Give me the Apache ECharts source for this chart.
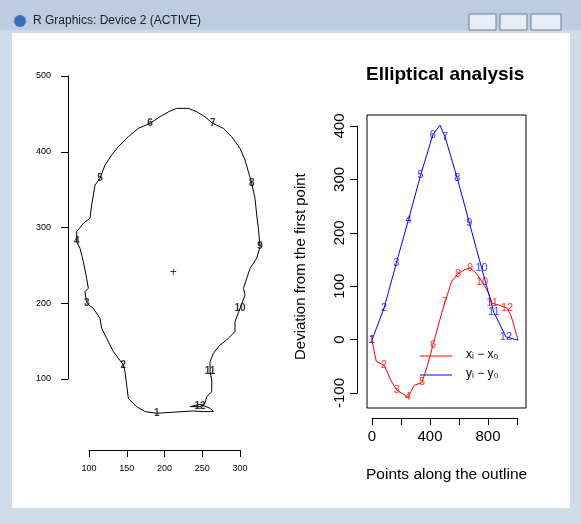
<!DOCTYPE html>
<html><head><meta charset="utf-8">
<script src="https://cdn.jsdelivr.net/npm/echarts@6/dist/echarts.min.js"></script>
<style>html,body{margin:0;padding:0}#c{width:581px;height:524px}</style>
</head><body><div id="c"></div>
<script>
// outline (x, y)
var outline = [
  [189.5,54.7],[174.1,56.9],[163.0,63.5],[152.0,74.5],[149.8,92.1],[147.6,109.7],[145.4,118.6],
  [132.2,136.2],[123.3,153.8],[116.7,167.0],[114.5,180.2],[105.7,193.4],[96.9,200.0],
  [94.7,215.4],[99.1,219.8],[96.9,233.0],[92.5,255.0],[88.1,272.7],[83.7,281.5],
  [83.7,294.7],[92.5,305.7],[101.3,312.3],[103.5,329.9],[105.7,343.1],[107.9,356.3],[114.5,365.1],
  [121.1,382.7],[130.0,395.9],[138.8,407.0],[152.0,420.2],[165.2,431.2],[180.7,437.8],
  [193.9,446.6],[207.1,454.1],[215.9,457.6],[231.4,457.6],[242.4,453.2],[253.4,446.6],[263.6,437.8],
  [277.7,431.2],[288.7,420.2],[299.7,404.8],[306.4,389.3],[310.8,373.9],[315.2,358.5],
  [319.6,338.7],[321.8,316.7],[324.0,299.1],[326.2,274.9],
  [321.8,259.5],[313.0,246.2],[304.2,219.8],[306.4,211.0],[299.7,193.4],
  [293.1,175.8],[293.1,162.6],[282.1,151.6],[273.3,145.0],[264.5,134.0],[260.1,123.0],[260.1,109.7],
  [262.3,98.8],[262.3,83.3],[255.6,76.7],[253.4,68.0],[246.8,63.5],
  [233.6,63.5],[246.8,66.6],[260.1,61.3],[264.5,56.9],[251.2,56.9],[238.0,57.8],[211.5,56.1],[189.5,54.7]
];
var outlineLabelIdx = [0,6,12,18,25,31,38,44,48,53,60,65];
var centroid = [211.5,241];

var devX = [
  [0,0],[30,-40],[84,-47],[130,-75],[172,-94],[210,-100],[248,-107],[290,-85],[345,-79],[380,-50],
  [421,-9],[460,30],[503,71],[550,110],[593,124],[640,132],[676,135],[720,125],[759,109],[800,90],
  [828,69],[880,65],[931,60],[960,45],[1007,0]
];
var devY = [
  [0,0],[84,60],[168,144],[252,225],[336,309],[420,384],[469,402],[504,380],[588,303],[672,219],
  [756,135],[840,52],[924,6],[1007,0]
];
var labX = [[0,0],[84,-47],[172,-94],[248,-107],[345,-79],[421,-9],[503,71],[593,124],[676,135],[759,109],[828,69],[931,60]];
var labY = [[0,0],[84,60],[168,144],[252,225],[336,309],[420,384],[504,380],[588,303],[672,219],[756,135],[840,52],[924,6]];

var F = '"Liberation Sans", Arial, sans-serif';
function numbered(pts, color) {
  return pts.map(function (p, i) { return {value: p, label: {formatter: String(i + 1), color: color}}; });
}
var hidden = {show: false};

var chart = echarts.init(document.getElementById('c'));
chart.setOption({
  backgroundColor: '#cfdbe9',
  animation: false,
  textStyle: {fontFamily: F},
  graphic: [
    {type: 'rect', shape: {x: 0, y: 0, width: 581, height: 30}, style: {fill: '#bccde2'}},
    {type: 'circle', shape: {cx: 20, cy: 21, r: 6}, style: {fill: '#3b6fb5'}},
    {type: 'text', left: 33, top: 15, style: {text: 'R Graphics: Device 2 (ACTIVE)', fill: '#222', font: '12px ' + F}},
    {type: 'rect', shape: {x: 469, y: 14, width: 27, height: 16}, style: {fill: '#e6edf5', stroke: '#6d7f96'}},
    {type: 'rect', shape: {x: 500, y: 14, width: 27, height: 16}, style: {fill: '#e6edf5', stroke: '#6d7f96'}},
    {type: 'rect', shape: {x: 531, y: 14, width: 30, height: 16}, style: {fill: '#e6edf5', stroke: '#6d7f96'}},
    {type: 'rect', z: -1, shape: {x: 12, y: 33, width: 558, height: 475}, style: {fill: '#fff'}},
    {type: 'text', left: 366, top: 65, style: {text: 'Elliptical analysis', fill: '#000', font: 'bold 19px ' + F}},
    {type: 'text', left: 366, top: 467, style: {text: 'Points along the outline', fill: '#000', font: '15.5px ' + F}},
    {type: 'text', x: 293, y: 360, rotation: Math.PI / 2, style: {text: 'Deviation from the first point', fill: '#000', font: '15px ' + F}},
    {type: 'line', shape: {x1: 420, y1: 356, x2: 452, y2: 356}, style: {stroke: 'red', lineWidth: 1}},
    {type: 'line', shape: {x1: 420, y1: 375, x2: 452, y2: 375}, style: {stroke: 'blue', lineWidth: 1}},
    {type: 'text', left: 466, top: 349, style: {text: 'xᵢ − x₀', fill: '#000', font: '12px ' + F}},
    {type: 'text', left: 466, top: 368, style: {text: 'yᵢ − y₀', fill: '#000', font: '12px ' + F}}
  ],
  grid: [
    {left: 73.9, top: 99, width: 189, height: 325.4},
    {left: 89, top: 440, width: 151, height: 10},
    {left: 68, top: 76, width: 10, height: 303},
    {left: 367, top: 115, width: 159, height: 293, show: true, borderColor: '#000', borderWidth: 1, backgroundColor: 'transparent'},
    {left: 372, top: 408, width: 145, height: 10},
    {left: 357, top: 126, width: 8, height: 267}
  ],
  xAxis: [
    {gridIndex: 0, type: 'value', min: 80, max: 330, show: false},
    {gridIndex: 1, type: 'value', min: 100, max: 300, interval: 50, position: 'bottom',
      axisLine: {lineStyle: {color: '#000'}}, axisTick: {length: 7, lineStyle: {color: '#000'}},
      axisLabel: {color: '#000', fontSize: 9, margin: 14}, splitLine: hidden},
    {gridIndex: 2, type: 'value', show: false},
    {gridIndex: 3, type: 'value', min: -34, max: 1062, show: false},
    {gridIndex: 4, type: 'value', min: 0, max: 1000, interval: 200, position: 'bottom',
      axisLine: {lineStyle: {color: '#000'}}, axisTick: {length: 7, lineStyle: {color: '#000'}},
      axisLabel: {color: '#000', fontSize: 15, margin: 11, showMaxLabel: true,
        formatter: function (v) { return v % 400 === 0 ? String(v) : ''; }}, splitLine: hidden},
    {gridIndex: 5, type: 'value', show: false}
  ],
  yAxis: [
    {gridIndex: 0, type: 'value', min: 40, max: 470, show: false},
    {gridIndex: 1, type: 'value', show: false},
    {gridIndex: 2, type: 'value', min: 100, max: 500, interval: 100, position: 'left',
      axisLine: {lineStyle: {color: '#000'}}, axisTick: {length: 7, lineStyle: {color: '#000'}},
      axisLabel: {color: '#000', fontSize: 9, margin: 17}, splitLine: hidden},
    {gridIndex: 3, type: 'value', min: -127, max: 421, show: false},
    {gridIndex: 4, type: 'value', show: false},
    {gridIndex: 5, type: 'value', min: -100, max: 400, interval: 100, position: 'left',
      axisLine: {lineStyle: {color: '#000'}}, axisTick: {length: 7, lineStyle: {color: '#000'}},
      axisLabel: {color: '#000', fontSize: 15, margin: 10, rotate: 90, align: 'center', verticalAlign: 'bottom'}, splitLine: hidden}
  ],
  series: [
    {type: 'line', xAxisIndex: 0, yAxisIndex: 0, data: outline, symbol: 'none',
      lineStyle: {color: '#000', width: 1}},
    {type: 'scatter', xAxisIndex: 0, yAxisIndex: 0, symbolSize: 0,
      data: outlineLabelIdx.map(function (k, i) { return {value: outline[k], label: {formatter: String(i + 1)}}; }),
      label: {show: true, position: 'inside', color: '#000', fontSize: 10, fontWeight: 'bold'}},
    {type: 'scatter', xAxisIndex: 0, yAxisIndex: 0, symbolSize: 0, data: [centroid],
      label: {show: true, position: 'inside', formatter: '+', color: '#000', fontSize: 12}},
    {type: 'line', xAxisIndex: 3, yAxisIndex: 3, data: devX, symbol: 'none', lineStyle: {color: 'red', width: 1}},
    {type: 'line', xAxisIndex: 3, yAxisIndex: 3, data: devY, symbol: 'none', lineStyle: {color: 'blue', width: 1}},
    {type: 'scatter', xAxisIndex: 3, yAxisIndex: 3, symbolSize: 0, data: numbered(labX, 'red'),
      label: {show: true, position: 'inside', fontSize: 11}},
    {type: 'scatter', xAxisIndex: 3, yAxisIndex: 3, symbolSize: 0, data: numbered(labY, 'blue'),
      label: {show: true, position: 'inside', fontSize: 11}}
  ]
});
</script></body></html>
